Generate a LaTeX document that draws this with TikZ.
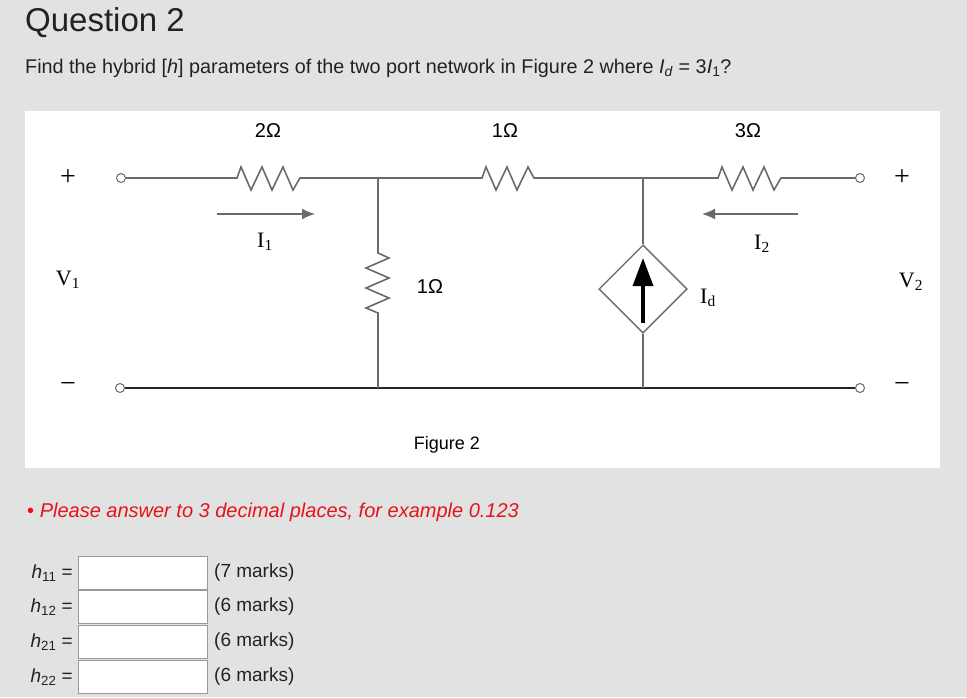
\documentclass[tikz,border=0pt]{standalone}
\usepackage{fontspec}
\setmainfont{Liberation Sans}
\newfontfamily\tms{Liberation Serif}
\usetikzlibrary{arrows.meta}
\definecolor{bg}{HTML}{E1E3E3}
\definecolor{wire}{HTML}{6A6A6A}
\definecolor{qred}{HTML}{E8121A}
\definecolor{txt}{HTML}{222222}
\tikzset{
  w/.style={draw=wire,line width=1.6pt},
  term/.style={circle,draw=wire,fill=white,inner sep=0pt,minimum size=9pt,line width=1pt},
  lab/.style={font=\tms\fontsize{22}{22}\selectfont,inner sep=0pt},
  ohm/.style={font=\fontsize{20}{20}\selectfont,inner sep=0pt},
  ans/.style={draw=gray!80,line width=1pt,fill=white,minimum width=129pt,minimum height=33pt,inner sep=0pt},
  mk/.style={font=\fontsize{19}{19}\selectfont,text=txt,anchor=west,inner sep=0pt},
  hl/.style={font=\fontsize{19}{19}\selectfont,text=txt,anchor=east,inner sep=0pt},
  cur/.style={draw=wire,line width=1.7pt,-{Latex[length=13pt,width=11pt]}}
}
\begin{document}
\begin{tikzpicture}[x=1pt,y=-1pt]
\useasboundingbox (0,0) rectangle (967,697);
\fill[bg] (0,0) rectangle (967,697);
\fill[white] (25,111) rectangle (940,468);
\node[anchor=west,inner sep=0,font=\fontsize{33}{33}\selectfont,text=txt] (title) at (25,23) {Question 2};
\node[anchor=west,inner sep=0,font=\fontsize{19.8}{20}\selectfont,text=txt] (q) at (25,68) {Find the hybrid [\textit{h}] parameters of the two port network in Figure 2 where \textit{I}\textsubscript{\textit{d}} = 3\textit{I}\textsubscript{1}?};
% terminals
\node[term] (t1) at (121,178) {};
\node[term] (b1) at (120,388) {};
\node[term] (t2) at (860,178) {};
\node[term] (b2) at (860,388) {};
\coordinate (j1) at (378,178);
\coordinate (j2) at (643,178);
\coordinate (g1) at (378,388);
\coordinate (g2) at (643,388);
% top wire with resistors
\draw[w] (t1) -- (237,178) -- (241,167) -- (251,190) -- (262,167) -- (272,190) -- (283,167) -- (293,190) -- (300,178) -- (j1)
 -- (482,178) -- (486,167) -- (496,190) -- (507,167) -- (517,190) -- (528,167) -- (534,178) -- (j2)
 -- (718,178) -- (722,167) -- (732,190) -- (743,167) -- (753,190) -- (764,167) -- (774,190) -- (781,178) -- (t2);
% bottom wire
\draw[draw=black!85,line width=1.6pt] (b1) -- (g1) -- (g2) -- (b2);
% vertical resistor
\draw[w] (j1) -- (378,253) -- (389,258) -- (366,268) -- (389,278) -- (366,288) -- (389,298) -- (366,308) -- (378,313) -- (g1);
% dependent source
\node[draw=wire,line width=1.3pt,shape=rectangle,rotate=45,minimum size=62pt,inner sep=0] (src) at (643,289) {};
\draw[w] (j2) -- (src.north east);
\draw[w] (src.south west) -- (g2);
\draw[line width=3.5pt,-{Triangle[length=28pt,width=20pt]}] (643,323) -- (643,258);
% currents
\coordinate (a1s) at (217,214); \coordinate (a1e) at (315,214);
\draw[cur] (a1s) -- (a1e);
\coordinate (a2s) at (798,214); \coordinate (a2e) at (702,214);
\draw[cur] (a2s) -- (a2e);
% labels
\node[ohm] (r1) at (268,131) {2Ω};
\node[ohm] (r2) at (505,131) {1Ω};
\node[ohm] (r3) at (748,131) {3Ω};
\node[ohm] (r4) at (430,287) {1Ω};
\node[lab] (i1) at (265,242) {I\textsubscript{1}};
\node[lab] (i2) at (762,244) {I\textsubscript{2}};
\node[lab] (id) at (708,298) {I\textsubscript{d}};
\node[lab] (v1) at (68,280) {V\textsubscript{1}};
\node[lab] (v2) at (911,282) {V\textsubscript{2}};
\node[lab,font=\tms\fontsize{28}{28}\selectfont] (p1) at (68,178) {+};
\node[lab,font=\tms\fontsize{28}{28}\selectfont] (p2) at (902,178) {+};
\node[lab,font=\tms\fontsize{28}{28}\selectfont] (m1) at (68,387) {−};
\node[lab,font=\tms\fontsize{28}{28}\selectfont] (m2) at (902,387) {−};
\node[inner sep=0,font=\fontsize{18}{18}\selectfont] (fig) at (447,445) {Figure 2};
% instructions
\node[anchor=west,inner sep=0,text=qred,font=\itshape\fontsize{20}{20}\selectfont] (note) at (27,512) {\upshape•\ \itshape Please answer to 3 decimal places, for example 0.123};
% answers
\foreach \y/\a/\b/\m in {573/1/1/7,607/1/2/6,642/2/1/6,677/2/2/6}{
  \node[ans] (box\a\b) at (143,\y) {};
  \node[hl] (h\a\b) at (73,\y) {\textit{h}\textsubscript{\a\b} =};
  \node[mk] (m\a\b) at (214,\y) {(\m\ marks)};
}
\end{tikzpicture}
\end{document}
